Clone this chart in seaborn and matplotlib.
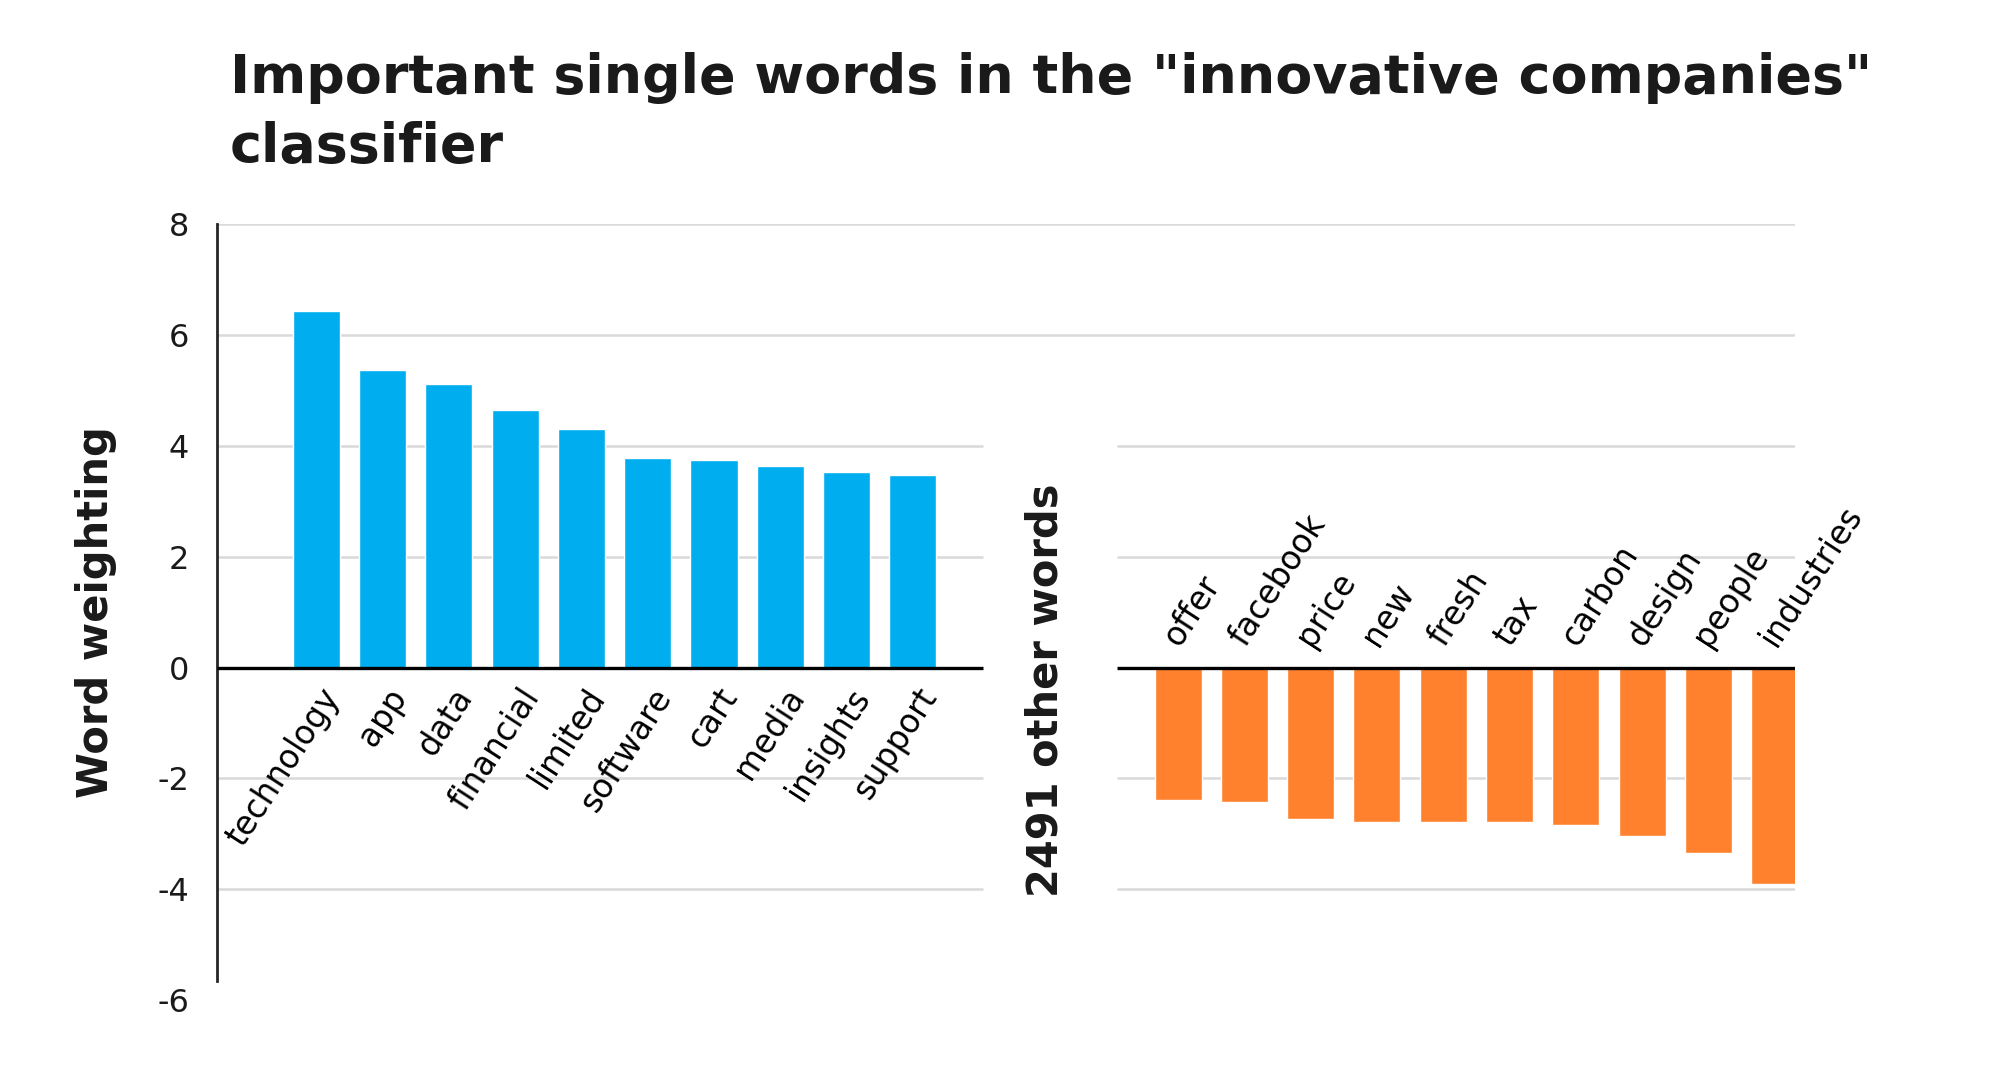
import pandas as pd
import matplotlib.pyplot as plt
import seaborn as sns

# words pushing towards "innovative" and the ones pushing away
pos_words = ['technology', 'app', 'data', 'financial', 'limited',
             'software', 'cart', 'media', 'insights', 'support']
pos_weights = [6.44, 5.37, 5.11, 4.65, 4.30, 3.79, 3.74, 3.64, 3.53, 3.48]

neg_words = ['offer', 'facebook', 'price', 'new', 'fresh',
             'tax', 'carbon', 'design', 'people', 'industries']
neg_weights = [-2.38, -2.43, -2.73, -2.79, -2.79, -2.79, -2.84, -3.04, -3.35, -3.91]

other_label = '2491 other words'
y_ticks = [-6, -4, -2, 0, 2, 4, 6, 8]

GAP = 4  # empty slots between the two groups
BLUE = '#00AEEF'
ORANGE = '#FF812E'
GRID = '#d9d9d9'

n = len(pos_words)
data = pd.DataFrame({
    'pos': list(range(n)) + [n - 1 + GAP + i for i in range(len(neg_words))],
    'weight': pos_weights + neg_weights,
    'word': pos_words + neg_words,
    'group': ['pos'] * n + ['neg'] * len(neg_words),
})

sns.set_style('white')
plt.rcParams['font.family'] = ['DejaVu Sans']

fig = plt.figure(figsize=(20, 10.68), dpi=100)
ax = fig.add_axes([0.1084, 0.0635, 0.7889, 0.7265])

sns.barplot(data=data, x='pos', y='weight', hue='group', native_scale=True,
            palette={'pos': BLUE, 'neg': ORANGE}, dodge=False, width=0.71,
            saturation=1, legend=False, ax=ax, zorder=3)

first_neg = n - 1 + GAP
x_left, x_right = -1.5, first_neg + len(neg_words) - 0.7
left_end = n - 1 + 1.06
right_start = first_neg - 0.92
ax.set_xlim(x_left, x_right)
ax.set_ylim(-6, 8)

# grid lines, broken where the middle label sits
for yv in y_ticks[1:]:
    col = 'black' if yv == 0 else GRID
    lw = 2.4 if yv == 0 else 1.8
    z = 4 if yv == 0 else 1
    if yv >= 6:
        ax.hlines(yv, x_left, x_right, color=col, lw=lw, zorder=z)
    else:
        ax.hlines(yv, x_left, left_end, color=col, lw=lw, zorder=z)
        ax.hlines(yv, right_start, x_right, color=col, lw=lw, zorder=z)

for s in ['top', 'right', 'bottom']:
    ax.spines[s].set_visible(False)
ax.spines['left'].set_linewidth(2)
ax.spines['left'].set_bounds(-5.65, 8)
ax.set_xticks([])
ax.set_xlabel('')
ax.set_yticks(y_ticks)
ax.set_yticklabels([str(v) for v in y_ticks])
ax.tick_params(axis='y', length=7, width=2.2, labelsize=23, pad=13, colors='black',
               labelcolor='#1a1a1a')
ax.yaxis.get_major_ticks()[0].tick1line.set_visible(False)

ax.set_ylabel('Word weighting', fontsize=30, fontweight='bold', color='#1a1a1a')
ax.yaxis.set_label_coords(-0.063, 0.5)

# word labels
for p, w in zip(data['pos'][:n], pos_words):
    ax.annotate(w, xy=(p, 0), xytext=(12, -17), textcoords='offset points',
                rotation=57, rotation_mode='anchor', ha='right', va='center',
                fontsize=23.5, color='black')
for p, w in zip(data['pos'][n:], neg_words):
    ax.annotate(w, xy=(p, 0), xytext=(-5, 18), textcoords='offset points',
                rotation=57, rotation_mode='anchor', ha='left', va='center',
                fontsize=23.5, color='black')

ax.text((n - 1 + first_neg) / 2, -0.4, other_label, rotation=90,
        ha='center', va='center', fontsize=30, fontweight='bold', color='#1a1a1a')

fig.text(0.115, 0.951, 'Important single words in the "innovative companies"\nclassifier',
         ha='left', va='top', fontsize=38.8, fontweight='bold', color='#1a1a1a',
         linespacing=1.4)

fig.savefig('out.png', dpi=100, facecolor='white')
